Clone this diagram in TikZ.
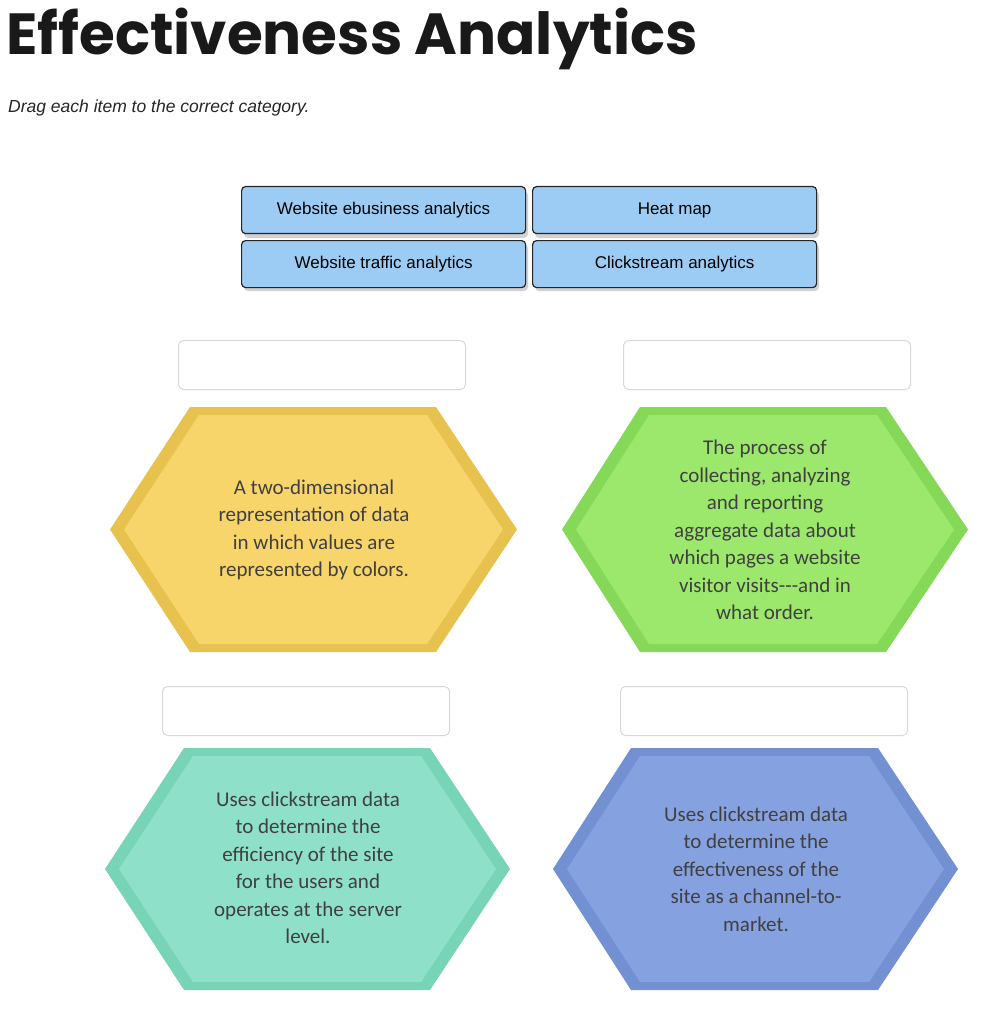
\documentclass[tikz,border=0pt]{standalone}
\usepackage{fontspec}
\setmainfont{Liberation Sans}
\newfontfamily\calib{Carlito}
\newfontfamily\titlef{Poppins}
\begin{document}
\begin{tikzpicture}[x=1pt,y=-1pt,
  btn/.style={draw=black!85,line width=1.2pt,rounded corners=4pt,fill=btnblue,minimum width=284pt,minimum height=47pt,font=\fontsize{17}{20}\selectfont,anchor=north west,inner sep=0pt},
  blank/.style={draw=black!15,line width=1pt,rounded corners=5pt,fill=white,minimum width=287pt,minimum height=49pt,anchor=north west},
  htext/.style={align=center,font=\calib\fontsize{21}{27.5}\selectfont,text=black!75}]
\definecolor{btnblue}{HTML}{9CCBF3}
\definecolor{yel}{HTML}{F7D56A}\definecolor{yelE}{HTML}{E8C24E}
\definecolor{grn}{HTML}{9CE86C}\definecolor{grnE}{HTML}{86D858}
\definecolor{tel}{HTML}{8EE0C8}\definecolor{telE}{HTML}{78D4B6}
\definecolor{blu}{HTML}{85A1DF}\definecolor{bluE}{HTML}{7290D2}
\useasboundingbox (0,0) rectangle (1001,1024);
\fill[white] (0,0) rectangle (1001,1024);
\node[anchor=base west,inner sep=0pt,font=\titlef\bfseries\fontsize{58}{60}\selectfont,text=black!90] (title) at (6,55) {Effectiveness Analytics};
\node[anchor=base west,inner sep=0pt,font=\itshape\fontsize{17.5}{20}\selectfont,text=black!85] (sub) at (8,113) {Drag each item to the correct category.};
% buttons with shadow
\foreach \x/\y in {241/186,532/186,241/239,532/239}
  \fill[black!18,rounded corners=4pt] (\x+3,\y+5) rectangle ++(284,47);
\node[btn] (b1) at (241,186) {Website ebusiness analytics};
\node[btn] (b2) at (532,186) {Heat map};
\node[btn] (b3) at (241,240) {Website traffic analytics};
\node[btn] (b4) at (532,240) {Clickstream analytics};
% blanks
\node[blank] (k1) at (178,340) {};
\node[blank] (k2) at (623,340) {};
\node[blank] (k3) at (162,686) {};
\node[blank] (k4) at (620,686) {};
% hexagons
\newcommand\hexa[8]{% lx cy hw(top half width) rx? : #1 left x, #2 top y, #3 top-left x, #4 top-right x, #5 right x, #6 bottom y, #7 fill, #8 edge
  \fill[#8] (#1,{(#2+#6)/2}) -- (#3,#2) -- (#4,#2) -- (#5,{(#2+#6)/2}) -- (#4,#6) -- (#3,#6) -- cycle;
  \fill[#7] (#1+14,{(#2+#6)/2}) -- (#3+9,#2+8) -- (#4-9,#2+8) -- (#5-14,{(#2+#6)/2}) -- (#4-9,#6-8) -- (#3+9,#6-8) -- cycle;}
\hexa{110}{407}{190}{436}{517}{652}{yel}{yelE}
\hexa{562}{407}{640}{886}{968}{652}{grn}{grnE}
\hexa{105}{748}{184}{430}{510}{990}{tel}{telE}
\hexa{553}{748}{631}{878}{958}{990}{blu}{bluE}
\node[htext] (h1) at (314,530) {A two-dimensional\\representation of data\\in which values are\\represented by colors.};
\node[htext] (h2) at (765,530) {The process of\\collecting, analyzing\\and reporting\\aggregate data about\\which pages a website\\visitor visits---and in\\what order.};
\node[htext] (h3) at (308,868) {Uses clickstream data\\to determine the\\efficiency of the site\\for the users and\\operates at the server\\level.};
\node[htext] (h4) at (756,869) {Uses clickstream data\\to determine the\\effectiveness of the\\site as a channel-to-\\market.};
\end{tikzpicture}
\end{document}
